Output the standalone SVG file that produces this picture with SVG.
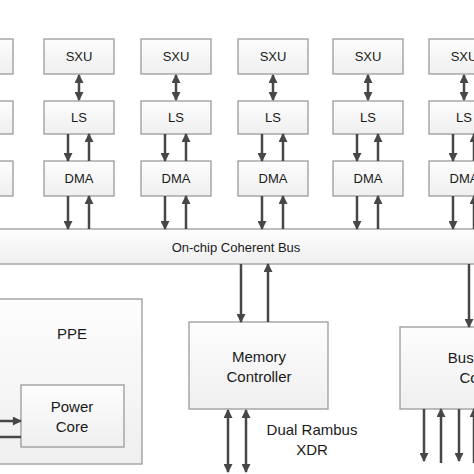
<svg xmlns="http://www.w3.org/2000/svg" width="474" height="474" viewBox="0 0 474 474">
<defs>
<linearGradient id="g" x1="0" y1="0" x2="0" y2="1">
<stop offset="0" stop-color="#fdfdfd"/>
<stop offset="1" stop-color="#efefef"/>
</linearGradient>
<marker id="ah" viewBox="0 0 10 10" refX="9" refY="5" markerWidth="10" markerHeight="9" markerUnits="userSpaceOnUse" orient="auto-start-reverse">
<path d="M0,0 L10,5 L0,10 z" fill="#474747"/>
</marker>
<style>
.box{fill:url(#g);stroke:#9a9a9a;stroke-width:1.3}
.t{font-family:"Liberation Sans",Arial,sans-serif;fill:#1a1a1a;text-anchor:middle}
.s{font-size:13px}
.l{font-size:15px}
.a{stroke:#474747;stroke-width:2.5;fill:none;marker-end:url(#ah)}
.d{stroke:#474747;stroke-width:2.5;fill:none;marker-start:url(#ah);marker-end:url(#ah)}
.p{stroke:#474747;stroke-width:2.5;fill:none}
</style>
</defs>
<rect width="474" height="474" fill="#ffffff"/>

<g id="spe0">
<rect class="box" x="-57" y="39" width="70" height="35"/>
<rect class="box" x="-57" y="101" width="70" height="33"/>
<rect class="box" x="-57" y="161" width="70" height="35"/>
</g>
<g id="spe1">
<rect class="box" x="44" y="39" width="70" height="35"/><text class="t s" x="79" y="61">SXU</text>
<rect class="box" x="44" y="101" width="70" height="33"/><text class="t s" x="79" y="122">LS</text>
<rect class="box" x="44" y="161" width="70" height="35"/><text class="t s" x="79" y="183">DMA</text>
</g>
<g id="spe2">
<rect class="box" x="141" y="39" width="70" height="35"/><text class="t s" x="176" y="61">SXU</text>
<rect class="box" x="141" y="101" width="70" height="33"/><text class="t s" x="176" y="122">LS</text>
<rect class="box" x="141" y="161" width="70" height="35"/><text class="t s" x="176" y="183">DMA</text>
</g>
<g id="spe3">
<rect class="box" x="238" y="39" width="70" height="35"/><text class="t s" x="273" y="61">SXU</text>
<rect class="box" x="238" y="101" width="70" height="33"/><text class="t s" x="273" y="122">LS</text>
<rect class="box" x="238" y="161" width="70" height="35"/><text class="t s" x="273" y="183">DMA</text>
</g>
<g id="spe4">
<rect class="box" x="333" y="39" width="70" height="35"/><text class="t s" x="368" y="61">SXU</text>
<rect class="box" x="333" y="101" width="70" height="33"/><text class="t s" x="368" y="122">LS</text>
<rect class="box" x="333" y="161" width="70" height="35"/><text class="t s" x="368" y="183">DMA</text>
</g>
<g id="spe5">
<rect class="box" x="429" y="39" width="70" height="35"/><text class="t s" x="464" y="61">SXU</text>
<rect class="box" x="429" y="101" width="70" height="33"/><text class="t s" x="464" y="122">LS</text>
<rect class="box" x="429" y="161" width="70" height="35"/><text class="t s" x="464" y="183">DMA</text>
</g>

<g id="bus">
<rect class="box" x="-5" y="229" width="485" height="35"/>
<text class="t s" x="236" y="252">On-chip Coherent Bus</text>
</g>

<g id="ppe">
<rect class="box" x="-5" y="299" width="147" height="165"/>
<text class="t l" x="72" y="339">PPE</text>
</g>
<g id="powercore">
<rect class="box" x="21" y="385" width="103" height="62"/>
<text class="t l" x="72" y="412">Power</text>
<text class="t l" x="72" y="432">Core</text>
</g>

<g id="memctrl">
<rect class="box" x="189" y="322" width="139" height="87"/>
<text class="t l" x="259" y="362">Memory</text>
<text class="t l" x="259" y="382">Controller</text>
</g>

<g id="xdr">
<text class="t l" x="312" y="435">Dual Rambus</text>
<text class="t l" x="312" y="455">XDR</text>
</g>

<g id="busif">
<rect class="box" x="400" y="327" width="184" height="82"/>
<text class="t l" x="492" y="363">Bus Interface</text>
<text class="t l" x="492" y="383">Controller</text>
</g>

<g id="connectors">
<path class="d" d="M79 75V100"/><path class="a" d="M68 134V161"/><path class="a" d="M89 161V134"/><path class="a" d="M68 196V229"/><path class="a" d="M89 229V196"/>
<path class="d" d="M176 75V100"/><path class="a" d="M165 134V161"/><path class="a" d="M186 161V134"/><path class="a" d="M165 196V229"/><path class="a" d="M186 229V196"/>
<path class="d" d="M273 75V100"/><path class="a" d="M262 134V161"/><path class="a" d="M283 161V134"/><path class="a" d="M262 196V229"/><path class="a" d="M283 229V196"/>
<path class="d" d="M368 75V100"/><path class="a" d="M357 134V161"/><path class="a" d="M378 161V134"/><path class="a" d="M357 196V229"/><path class="a" d="M378 229V196"/>
<path class="d" d="M464 75V100"/><path class="a" d="M453 134V161"/><path class="a" d="M474 161V134"/><path class="a" d="M453 196V229"/><path class="a" d="M474 229V196"/>
<path class="a" d="M241 264V322"/><path class="a" d="M268 322V264"/>
<path class="a" d="M469 264V327"/>
<path class="d" d="M228 410V472"/><path class="d" d="M246 410V472"/>
<path class="a" d="M424 409V461"/><path class="a" d="M441 463V409"/><path class="a" d="M459 409V461"/><path class="a" d="M474 463V409"/>
<path class="a" d="M0 421H21"/><path class="p" d="M0 437H21"/>
</g>
</svg>
